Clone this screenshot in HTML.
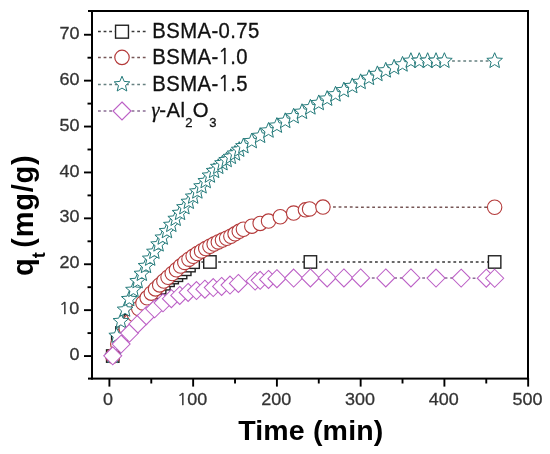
<!DOCTYPE html>
<html><head><meta charset="utf-8"><title>Adsorption kinetics</title>
<style>html,body{margin:0;padding:0;background:#fff;}svg{display:block;}</style>
</head><body><svg width="550" height="454" viewBox="0 0 550 454"><g fill="#000"><rect x="88" y="10" width="441" height="2"/><rect x="88" y="377.6" width="441" height="2"/><rect x="91" y="10" width="2" height="369.6"/><rect x="527" y="10" width="2" height="369.6"/></g><g stroke="#000" stroke-width="1.9"><line x1="84" y1="356.05" x2="92" y2="356.05"/><line x1="84" y1="310.15" x2="92" y2="310.15"/><line x1="84" y1="264.25" x2="92" y2="264.25"/><line x1="84" y1="218.35" x2="92" y2="218.35"/><line x1="84" y1="172.45" x2="92" y2="172.45"/><line x1="84" y1="126.55" x2="92" y2="126.55"/><line x1="84" y1="80.65" x2="92" y2="80.65"/><line x1="84" y1="34.75" x2="92" y2="34.75"/><line x1="87.5" y1="333.10" x2="92" y2="333.10"/><line x1="87.5" y1="287.20" x2="92" y2="287.20"/><line x1="87.5" y1="241.30" x2="92" y2="241.30"/><line x1="87.5" y1="195.40" x2="92" y2="195.40"/><line x1="87.5" y1="149.50" x2="92" y2="149.50"/><line x1="87.5" y1="103.60" x2="92" y2="103.60"/><line x1="87.5" y1="57.70" x2="92" y2="57.70"/><line x1="109.40" y1="378" x2="109.40" y2="386.6"/><line x1="193.15" y1="378" x2="193.15" y2="386.6"/><line x1="276.90" y1="378" x2="276.90" y2="386.6"/><line x1="360.65" y1="378" x2="360.65" y2="386.6"/><line x1="444.40" y1="378" x2="444.40" y2="386.6"/><line x1="528.15" y1="378" x2="528.15" y2="386.6"/><line x1="151.28" y1="378" x2="151.28" y2="383.5"/><line x1="235.03" y1="378" x2="235.03" y2="383.5"/><line x1="318.77" y1="378" x2="318.77" y2="383.5"/><line x1="402.52" y1="378" x2="402.52" y2="383.5"/><line x1="486.27" y1="378" x2="486.27" y2="383.5"/></g><g font-family="'Liberation Sans', Arial, sans-serif" font-size="18" fill="#333" stroke="#333" stroke-width="0.3"><text transform="translate(79.6 360.15) scale(1 0.935)" text-anchor="end">0</text><text transform="translate(79.6 314.25) scale(1 0.935)" text-anchor="end"><tspan font-family="NanumGothic, 'Liberation Sans', sans-serif" dx="-0.45">1</tspan><tspan dx="-0.45">0</tspan></text><text transform="translate(79.6 268.35) scale(1 0.935)" text-anchor="end">20</text><text transform="translate(79.6 222.45) scale(1 0.935)" text-anchor="end">30</text><text transform="translate(79.6 176.55) scale(1 0.935)" text-anchor="end">40</text><text transform="translate(79.6 130.65) scale(1 0.935)" text-anchor="end">50</text><text transform="translate(79.6 84.75) scale(1 0.935)" text-anchor="end">60</text><text transform="translate(79.6 38.85) scale(1 0.935)" text-anchor="end">70</text><text transform="translate(108.00 405.4) scale(1 0.935)" text-anchor="middle">0</text><text transform="translate(192.45 405.4) scale(1 0.935)" text-anchor="middle"><tspan font-family="NanumGothic, 'Liberation Sans', sans-serif" dx="-0.45">1</tspan><tspan dx="-0.45">0</tspan>0</text><text transform="translate(276.20 405.4) scale(1 0.935)" text-anchor="middle">200</text><text transform="translate(359.95 405.4) scale(1 0.935)" text-anchor="middle">300</text><text transform="translate(443.70 405.4) scale(1 0.935)" text-anchor="middle">400</text><text transform="translate(527.45 405.4) scale(1 0.935)" text-anchor="middle">500</text></g><text x="238.2" y="439.6" font-family="'Liberation Sans', Arial, sans-serif" font-size="28.5" font-weight="bold" fill="#000" letter-spacing="0.17">Time (min)</text><g transform="translate(33.4,276) rotate(-90)"><text x="0" y="0" font-family="'Liberation Sans', Arial, sans-serif" font-size="29" font-weight="bold" fill="#000">q<tspan font-size="18.2" dy="12.0">t</tspan><tspan dy="-12.0" dx="-4.3" letter-spacing="0.75"> (mg/g)</tspan></text></g><polyline points="112.75,356.05 117.78,340.90 121.96,333.01 126.15,326.67 130.34,320.87 134.53,315.66 138.71,310.96 142.90,306.48 147.09,301.92 151.28,297.30 155.46,292.35 159.65,287.66 163.84,283.72 168.03,280.31 172.21,277.56 176.40,275.27 180.59,272.51 184.78,269.30 188.96,265.63 193.15,262.18 209.90,261.96 310.40,261.96 494.65,261.96" fill="none" stroke="#383838" stroke-width="1.5" stroke-dasharray="2.8 2.8"/><g fill="#fff" stroke="#222222" stroke-width="1.4" stroke-linejoin="miter"><rect x="106.55" y="349.85" width="12.40" height="12.40"/><rect x="111.58" y="334.70" width="12.40" height="12.40"/><rect x="115.76" y="326.81" width="12.40" height="12.40"/><rect x="119.95" y="320.47" width="12.40" height="12.40"/><rect x="124.14" y="314.67" width="12.40" height="12.40"/><rect x="128.33" y="309.46" width="12.40" height="12.40"/><rect x="132.51" y="304.76" width="12.40" height="12.40"/><rect x="136.70" y="300.28" width="12.40" height="12.40"/><rect x="140.89" y="295.72" width="12.40" height="12.40"/><rect x="145.08" y="291.10" width="12.40" height="12.40"/><rect x="149.26" y="286.15" width="12.40" height="12.40"/><rect x="153.45" y="281.46" width="12.40" height="12.40"/><rect x="157.64" y="277.52" width="12.40" height="12.40"/><rect x="161.83" y="274.12" width="12.40" height="12.40"/><rect x="166.01" y="271.36" width="12.40" height="12.40"/><rect x="170.20" y="269.07" width="12.40" height="12.40"/><rect x="174.39" y="266.31" width="12.40" height="12.40"/><rect x="178.58" y="263.10" width="12.40" height="12.40"/><rect x="182.76" y="259.43" width="12.40" height="12.40"/><rect x="186.95" y="255.98" width="12.40" height="12.40"/><rect x="203.70" y="255.76" width="12.40" height="12.40"/><rect x="304.20" y="255.76" width="12.40" height="12.40"/><rect x="488.45" y="255.76" width="12.40" height="12.40"/></g><polyline points="112.75,356.05 117.78,344.12 121.96,335.93 126.15,328.51 130.34,321.40 134.53,314.74 138.71,308.53 142.90,302.94 147.09,297.85 151.28,293.17 155.46,288.90 159.65,284.91 163.84,281.01 168.03,277.23 172.21,273.52 176.40,269.82 180.59,266.06 184.78,262.45 188.96,259.20 193.15,256.30 197.34,253.57 201.53,251.00 205.71,248.57 209.90,246.25 214.09,244.03 218.28,241.96 222.46,240.10 226.65,238.25 230.84,236.25 235.03,233.85 239.21,231.33 243.40,229.23 251.78,226.15 260.15,223.40 268.52,221.10 280.25,216.74 293.65,213.07 305.38,209.86 309.56,208.94 322.96,207.10 494.65,207.24" fill="none" stroke="#765656" stroke-width="1.5" stroke-dasharray="2.8 2.8"/><g fill="#fff" stroke="#b43a3a" stroke-width="1.1" stroke-linejoin="miter"><circle cx="112.75" cy="356.05" r="7.2"/><circle cx="117.78" cy="344.12" r="7.2"/><circle cx="121.96" cy="335.93" r="7.2"/><circle cx="126.15" cy="328.51" r="7.2"/><circle cx="130.34" cy="321.40" r="7.2"/><circle cx="134.53" cy="314.74" r="7.2"/><circle cx="138.71" cy="308.53" r="7.2"/><circle cx="142.90" cy="302.94" r="7.2"/><circle cx="147.09" cy="297.85" r="7.2"/><circle cx="151.28" cy="293.17" r="7.2"/><circle cx="155.46" cy="288.90" r="7.2"/><circle cx="159.65" cy="284.91" r="7.2"/><circle cx="163.84" cy="281.01" r="7.2"/><circle cx="168.03" cy="277.23" r="7.2"/><circle cx="172.21" cy="273.52" r="7.2"/><circle cx="176.40" cy="269.82" r="7.2"/><circle cx="180.59" cy="266.06" r="7.2"/><circle cx="184.78" cy="262.45" r="7.2"/><circle cx="188.96" cy="259.20" r="7.2"/><circle cx="193.15" cy="256.30" r="7.2"/><circle cx="197.34" cy="253.57" r="7.2"/><circle cx="201.53" cy="251.00" r="7.2"/><circle cx="205.71" cy="248.57" r="7.2"/><circle cx="209.90" cy="246.25" r="7.2"/><circle cx="214.09" cy="244.03" r="7.2"/><circle cx="218.28" cy="241.96" r="7.2"/><circle cx="222.46" cy="240.10" r="7.2"/><circle cx="226.65" cy="238.25" r="7.2"/><circle cx="230.84" cy="236.25" r="7.2"/><circle cx="235.03" cy="233.85" r="7.2"/><circle cx="239.21" cy="231.33" r="7.2"/><circle cx="243.40" cy="229.23" r="7.2"/><circle cx="251.78" cy="226.15" r="7.2"/><circle cx="260.15" cy="223.40" r="7.2"/><circle cx="268.52" cy="221.10" r="7.2"/><circle cx="280.25" cy="216.74" r="7.2"/><circle cx="293.65" cy="213.07" r="7.2"/><circle cx="305.38" cy="209.86" r="7.2"/><circle cx="309.56" cy="208.94" r="7.2"/><circle cx="322.96" cy="207.10" r="7.2"/><circle cx="494.65" cy="207.24" r="7.2"/></g><polyline points="112.75,356.05 116.69,335.85 120.87,321.17 125.06,309.69 129.25,299.13 133.44,289.95 137.62,281.23 141.81,273.89 146.00,266.09 150.19,258.74 154.37,251.86 158.56,244.51 162.75,237.68 166.94,231.20 171.31,224.96 175.67,218.90 180.04,213.02 184.41,207.33 188.78,201.90 193.15,196.69 197.34,191.58 201.53,186.45 205.71,181.17 209.90,175.66 214.09,171.03 218.28,166.94 222.46,163.36 226.65,160.13 230.84,156.97 235.03,153.63 239.21,149.83 243.40,146.29 251.78,141.24 260.15,135.93 268.52,130.68 276.90,125.77 285.27,121.04 293.65,116.45 302.02,111.96 310.40,107.52 318.77,103.14 327.15,98.81 335.52,94.51 343.90,90.28 352.27,86.16 360.65,82.06 369.02,77.99 377.40,74.10 385.77,70.55 394.15,67.57 402.52,64.59 410.90,60.91 419.27,60.91 427.65,60.91 436.02,60.91 444.40,60.91 494.65,60.91" fill="none" stroke="#668080" stroke-width="1.5" stroke-dasharray="2.8 2.8"/><g fill="#fff" stroke="#237a7a" stroke-width="1.0" stroke-linejoin="round"><polygon points="112.75,347.85 114.92,353.06 120.55,353.52 116.26,357.19 117.57,362.68 112.75,359.74 107.93,362.68 109.24,357.19 104.95,353.52 110.58,353.06"/><polygon points="116.69,327.65 118.86,332.87 124.48,333.32 120.20,336.99 121.51,342.49 116.69,339.54 111.87,342.49 113.18,336.99 108.89,333.32 114.52,332.87"/><polygon points="120.87,312.97 123.04,318.18 128.67,318.63 124.38,322.31 125.69,327.80 120.87,324.86 116.05,327.80 117.36,322.31 113.08,318.63 118.70,318.18"/><polygon points="125.06,301.49 127.23,306.71 132.86,307.16 128.57,310.83 129.88,316.32 125.06,313.38 120.24,316.32 121.55,310.83 117.26,307.16 122.89,306.71"/><polygon points="129.25,290.93 131.42,296.15 137.05,296.60 132.76,300.27 134.07,305.77 129.25,302.82 124.43,305.77 125.74,300.27 121.45,296.60 127.08,296.15"/><polygon points="133.44,281.75 135.61,286.97 141.23,287.42 136.95,291.09 138.26,296.59 133.44,293.64 128.62,296.59 129.93,291.09 125.64,287.42 131.27,286.97"/><polygon points="137.62,273.03 139.79,278.25 145.42,278.70 141.13,282.37 142.44,287.87 137.62,284.92 132.80,287.87 134.11,282.37 129.83,278.70 135.45,278.25"/><polygon points="141.81,265.69 143.98,270.90 149.61,271.36 145.32,275.03 146.63,280.52 141.81,277.58 136.99,280.52 138.30,275.03 134.01,271.36 139.64,270.90"/><polygon points="146.00,257.89 148.17,263.10 153.80,263.55 149.51,267.23 150.82,272.72 146.00,269.78 141.18,272.72 142.49,267.23 138.20,263.55 143.83,263.10"/><polygon points="150.19,250.54 152.36,255.76 157.98,256.21 153.70,259.88 155.01,265.38 150.19,262.43 145.37,265.38 146.68,259.88 142.39,256.21 148.02,255.76"/><polygon points="154.37,243.66 156.54,248.87 162.17,249.32 157.88,253.00 159.19,258.49 154.37,255.55 149.55,258.49 150.86,253.00 146.58,249.32 152.20,248.87"/><polygon points="158.56,236.31 160.73,241.53 166.36,241.98 162.07,245.65 163.38,251.15 158.56,248.20 153.74,251.15 155.05,245.65 150.76,241.98 156.39,241.53"/><polygon points="162.75,229.48 164.92,234.70 170.55,235.15 166.26,238.83 167.57,244.32 162.75,241.37 157.93,244.32 159.24,238.83 154.95,235.15 160.58,234.70"/><polygon points="166.94,223.00 169.11,228.22 174.73,228.67 170.45,232.34 171.76,237.84 166.94,234.89 162.12,237.84 163.43,232.34 159.14,228.67 164.77,228.22"/><polygon points="171.31,216.76 173.47,221.97 179.10,222.43 174.81,226.10 176.13,231.59 171.31,228.65 166.49,231.59 167.80,226.10 163.51,222.43 169.14,221.97"/><polygon points="175.67,210.70 177.84,215.91 183.47,216.36 179.18,220.04 180.49,225.53 175.67,222.59 170.85,225.53 172.16,220.04 167.88,216.36 173.51,215.91"/><polygon points="180.04,204.82 182.21,210.04 187.84,210.49 183.55,214.16 184.86,219.65 180.04,216.71 175.22,219.65 176.53,214.16 172.24,210.49 177.87,210.04"/><polygon points="184.41,199.13 186.58,204.35 192.21,204.80 187.92,208.47 189.23,213.97 184.41,211.02 179.59,213.97 180.90,208.47 176.61,204.80 182.24,204.35"/><polygon points="188.78,193.70 190.95,198.91 196.58,199.37 192.29,203.04 193.60,208.53 188.78,205.59 183.96,208.53 185.27,203.04 180.98,199.37 186.61,198.91"/><polygon points="193.15,188.49 195.32,193.71 200.95,194.16 196.66,197.83 197.97,203.33 193.15,200.38 188.33,203.33 189.64,197.83 185.35,194.16 190.98,193.71"/><polygon points="197.34,183.38 199.51,188.60 205.14,189.05 200.85,192.72 202.16,198.22 197.34,195.27 192.52,198.22 193.83,192.72 189.54,189.05 195.17,188.60"/><polygon points="201.53,178.25 203.69,183.47 209.32,183.92 205.03,187.59 206.34,193.09 201.53,190.14 196.71,193.09 198.02,187.59 193.73,183.92 199.36,183.47"/><polygon points="205.71,172.97 207.88,178.19 213.51,178.64 209.22,182.31 210.53,187.80 205.71,184.86 200.89,187.80 202.20,182.31 197.91,178.64 203.54,178.19"/><polygon points="209.90,167.46 212.07,172.68 217.70,173.13 213.41,176.80 214.72,182.30 209.90,179.35 205.08,182.30 206.39,176.80 202.10,173.13 207.73,172.68"/><polygon points="214.09,162.83 216.26,168.04 221.89,168.49 217.60,172.17 218.91,177.66 214.09,174.72 209.27,177.66 210.58,172.17 206.29,168.49 211.92,168.04"/><polygon points="218.28,158.74 220.44,163.96 226.07,164.41 221.78,168.08 223.09,173.58 218.28,170.63 213.46,173.58 214.77,168.08 210.48,164.41 216.11,163.96"/><polygon points="222.46,155.16 224.63,160.38 230.26,160.83 225.97,164.51 227.28,170.00 222.46,167.05 217.64,170.00 218.95,164.51 214.66,160.83 220.29,160.38"/><polygon points="226.65,151.93 228.82,157.14 234.45,157.59 230.16,161.27 231.47,166.76 226.65,163.82 221.83,166.76 223.14,161.27 218.85,157.59 224.48,157.14"/><polygon points="230.84,148.77 233.01,153.98 238.64,154.43 234.35,158.11 235.66,163.60 230.84,160.66 226.02,163.60 227.33,158.11 223.04,154.43 228.67,153.98"/><polygon points="235.03,145.43 237.19,150.65 242.82,151.10 238.53,154.77 239.84,160.26 235.03,157.32 230.21,160.26 231.52,154.77 227.23,151.10 232.86,150.65"/><polygon points="239.21,141.63 241.38,146.84 247.01,147.30 242.72,150.97 244.03,156.46 239.21,153.52 234.39,156.46 235.70,150.97 231.41,147.30 237.04,146.84"/><polygon points="243.40,138.09 245.57,143.30 251.20,143.75 246.91,147.43 248.22,152.92 243.40,149.98 238.58,152.92 239.89,147.43 235.60,143.75 241.23,143.30"/><polygon points="251.78,133.04 253.94,138.25 259.57,138.70 255.28,142.38 256.59,147.87 251.78,144.93 246.96,147.87 248.27,142.38 243.98,138.70 249.61,138.25"/><polygon points="260.15,127.73 262.32,132.95 267.95,133.40 263.66,137.07 264.97,142.57 260.15,139.62 255.33,142.57 256.64,137.07 252.35,133.40 257.98,132.95"/><polygon points="268.52,122.48 270.69,127.70 276.32,128.15 272.03,131.82 273.34,137.31 268.52,134.37 263.71,137.31 265.02,131.82 260.73,128.15 266.36,127.70"/><polygon points="276.90,117.57 279.07,122.79 284.70,123.24 280.41,126.91 281.72,132.41 276.90,129.46 272.08,132.41 273.39,126.91 269.10,123.24 274.73,122.79"/><polygon points="285.27,112.84 287.44,118.06 293.07,118.51 288.78,122.18 290.09,127.68 285.27,124.73 280.46,127.68 281.77,122.18 277.48,118.51 283.11,118.06"/><polygon points="293.65,108.25 295.82,113.47 301.45,113.92 297.16,117.59 298.47,123.09 293.65,120.14 288.83,123.09 290.14,117.59 285.85,113.92 291.48,113.47"/><polygon points="302.02,103.76 304.19,108.97 309.82,109.42 305.53,113.10 306.84,118.59 302.02,115.65 297.21,118.59 298.52,113.10 294.23,109.42 299.86,108.97"/><polygon points="310.40,99.32 312.57,104.53 318.20,104.98 313.91,108.66 315.22,114.15 310.40,111.21 305.58,114.15 306.89,108.66 302.60,104.98 308.23,104.53"/><polygon points="318.77,94.94 320.94,100.16 326.57,100.61 322.28,104.28 323.59,109.77 318.77,106.83 313.96,109.77 315.27,104.28 310.98,100.61 316.61,100.16"/><polygon points="327.15,90.61 329.32,95.82 334.95,96.27 330.66,99.95 331.97,105.44 327.15,102.50 322.33,105.44 323.64,99.95 319.35,96.27 324.98,95.82"/><polygon points="335.52,86.31 337.69,91.53 343.32,91.98 339.03,95.65 340.34,101.14 335.52,98.20 330.71,101.14 332.02,95.65 327.73,91.98 333.36,91.53"/><polygon points="343.90,82.08 346.07,87.30 351.70,87.75 347.41,91.42 348.72,96.92 343.90,93.97 339.08,96.92 340.39,91.42 336.10,87.75 341.73,87.30"/><polygon points="352.27,77.96 354.44,83.17 360.07,83.62 355.78,87.30 357.09,92.79 352.27,89.85 347.46,92.79 348.77,87.30 344.48,83.62 350.11,83.17"/><polygon points="360.65,73.86 362.82,79.07 368.45,79.52 364.16,83.20 365.47,88.69 360.65,85.75 355.83,88.69 357.14,83.20 352.85,79.52 358.48,79.07"/><polygon points="369.02,69.79 371.19,75.00 376.82,75.45 372.53,79.13 373.84,84.62 369.02,81.68 364.21,84.62 365.52,79.13 361.23,75.45 366.86,75.00"/><polygon points="377.40,65.90 379.57,71.12 385.20,71.57 380.91,75.24 382.22,80.74 377.40,77.79 372.58,80.74 373.89,75.24 369.60,71.57 375.23,71.12"/><polygon points="385.77,62.35 387.94,67.57 393.57,68.02 389.28,71.69 390.59,77.19 385.77,74.24 380.96,77.19 382.27,71.69 377.98,68.02 383.61,67.57"/><polygon points="394.15,59.37 396.32,64.58 401.95,65.03 397.66,68.71 398.97,74.20 394.15,71.26 389.33,74.20 390.64,68.71 386.35,65.03 391.98,64.58"/><polygon points="402.52,56.39 404.69,61.60 410.32,62.05 406.03,65.73 407.34,71.22 402.52,68.28 397.71,71.22 399.02,65.73 394.73,62.05 400.36,61.60"/><polygon points="410.90,52.71 413.07,57.93 418.70,58.38 414.41,62.05 415.72,67.55 410.90,64.60 406.08,67.55 407.39,62.05 403.10,58.38 408.73,57.93"/><polygon points="419.27,52.71 421.44,57.93 427.07,58.38 422.78,62.05 424.09,67.55 419.27,64.60 414.46,67.55 415.77,62.05 411.48,58.38 417.11,57.93"/><polygon points="427.65,52.71 429.82,57.93 435.45,58.38 431.16,62.05 432.47,67.55 427.65,64.60 422.83,67.55 424.14,62.05 419.85,58.38 425.48,57.93"/><polygon points="436.02,52.71 438.19,57.93 443.82,58.38 439.53,62.05 440.84,67.55 436.02,64.60 431.21,67.55 432.52,62.05 428.23,58.38 433.86,57.93"/><polygon points="444.40,52.71 446.57,57.93 452.20,58.38 447.91,62.05 449.22,67.55 444.40,64.60 439.58,67.55 440.89,62.05 436.60,58.38 442.23,57.93"/><polygon points="494.65,52.71 496.82,57.93 502.45,58.38 498.16,62.05 499.47,67.55 494.65,64.60 489.83,67.55 491.14,62.05 486.85,58.38 492.48,57.93"/></g><polyline points="112.75,355.82 121.12,344.12 129.50,333.10 137.88,323.92 146.25,315.66 154.62,308.77 163.00,302.81 171.38,298.68 179.75,295.46 188.12,292.48 196.50,290.55 204.88,289.18 213.25,287.52 221.62,286.40 230.00,285.05 238.38,283.44 255.12,281.00 260.15,280.31 268.52,279.40 276.90,278.71 293.65,278.02 310.40,277.93 327.15,277.93 343.90,277.93 360.65,277.93 385.77,277.94 410.90,277.98 436.02,278.04 461.15,278.12 486.27,278.21 494.65,278.25" fill="none" stroke="#8a6e94" stroke-width="1.5" stroke-dasharray="2.8 2.8"/><g fill="#fff" stroke="#bc60c6" stroke-width="1.05" stroke-linejoin="miter"><polygon points="112.75,346.82 121.75,355.82 112.75,364.82 103.75,355.82"/><polygon points="121.12,335.12 130.12,344.12 121.12,353.12 112.12,344.12"/><polygon points="129.50,324.10 138.50,333.10 129.50,342.10 120.50,333.10"/><polygon points="137.88,314.92 146.88,323.92 137.88,332.92 128.88,323.92"/><polygon points="146.25,306.66 155.25,315.66 146.25,324.66 137.25,315.66"/><polygon points="154.62,299.77 163.62,308.77 154.62,317.77 145.62,308.77"/><polygon points="163.00,293.81 172.00,302.81 163.00,311.81 154.00,302.81"/><polygon points="171.38,289.68 180.38,298.68 171.38,307.68 162.38,298.68"/><polygon points="179.75,286.46 188.75,295.46 179.75,304.46 170.75,295.46"/><polygon points="188.12,283.48 197.12,292.48 188.12,301.48 179.12,292.48"/><polygon points="196.50,281.55 205.50,290.55 196.50,299.55 187.50,290.55"/><polygon points="204.88,280.18 213.88,289.18 204.88,298.18 195.88,289.18"/><polygon points="213.25,278.52 222.25,287.52 213.25,296.52 204.25,287.52"/><polygon points="221.62,277.40 230.62,286.40 221.62,295.40 212.62,286.40"/><polygon points="230.00,276.05 239.00,285.05 230.00,294.05 221.00,285.05"/><polygon points="238.38,274.44 247.38,283.44 238.38,292.44 229.38,283.44"/><polygon points="255.12,272.00 264.12,281.00 255.12,290.00 246.12,281.00"/><polygon points="260.15,271.31 269.15,280.31 260.15,289.31 251.15,280.31"/><polygon points="268.52,270.40 277.52,279.40 268.52,288.40 259.52,279.40"/><polygon points="276.90,269.71 285.90,278.71 276.90,287.71 267.90,278.71"/><polygon points="293.65,269.02 302.65,278.02 293.65,287.02 284.65,278.02"/><polygon points="310.40,268.93 319.40,277.93 310.40,286.93 301.40,277.93"/><polygon points="327.15,268.93 336.15,277.93 327.15,286.93 318.15,277.93"/><polygon points="343.90,268.93 352.90,277.93 343.90,286.93 334.90,277.93"/><polygon points="360.65,268.93 369.65,277.93 360.65,286.93 351.65,277.93"/><polygon points="385.77,268.94 394.77,277.94 385.77,286.94 376.77,277.94"/><polygon points="410.90,268.98 419.90,277.98 410.90,286.98 401.90,277.98"/><polygon points="436.02,269.04 445.02,278.04 436.02,287.04 427.02,278.04"/><polygon points="461.15,269.12 470.15,278.12 461.15,287.12 452.15,278.12"/><polygon points="486.27,269.21 495.27,278.21 486.27,287.21 477.27,278.21"/><polygon points="494.65,269.25 503.65,278.25 494.65,287.25 485.65,278.25"/></g><line x1="98" y1="31.5" x2="146.5" y2="31.5" stroke="#383838" stroke-width="1.5" stroke-dasharray="2.8 2.8"/><g fill="#fff" stroke="#222222" stroke-width="1.4" stroke-linejoin="miter"><rect x="115.55" y="25.25" width="12.90" height="12.90"/></g><line x1="98" y1="57.4" x2="146.5" y2="57.4" stroke="#765656" stroke-width="1.5" stroke-dasharray="2.8 2.8"/><g fill="#fff" stroke="#b43a3a" stroke-width="1.2" stroke-linejoin="miter"><circle cx="122.00" cy="57.40" r="7.2"/></g><line x1="98" y1="84.4" x2="146.5" y2="84.4" stroke="#668080" stroke-width="1.5" stroke-dasharray="2.8 2.8"/><g fill="#fff" stroke="#237a7a" stroke-width="1.0" stroke-linejoin="round"><polygon points="122.00,76.20 124.17,81.41 129.80,81.87 125.51,85.54 126.82,91.03 122.00,88.09 117.18,91.03 118.49,85.54 114.20,81.87 119.83,81.41"/></g><line x1="98" y1="111" x2="146.5" y2="111" stroke="#8a6e94" stroke-width="1.5" stroke-dasharray="2.8 2.8"/><g fill="#fff" stroke="#bc60c6" stroke-width="1.15" stroke-linejoin="miter"><polygon points="122.00,102.00 131.00,111.00 122.00,120.00 113.00,111.00"/></g><g font-family="'Liberation Sans', Arial, sans-serif" font-size="20.3" fill="#111" stroke="#111" stroke-width="0.3" letter-spacing="0.4"><text transform="translate(152.3 37.7) scale(1 1.05)">BSMA-0.75</text><text transform="translate(152.3 64.3) scale(1 1.05)">BSMA-<tspan font-family="NanumGothic, 'Liberation Sans', sans-serif" dx="-0.51">1</tspan><tspan dx="-0.51">.</tspan>0</text><text transform="translate(152.3 90.7) scale(1 1.05)">BSMA-<tspan font-family="NanumGothic, 'Liberation Sans', sans-serif" dx="-0.51">1</tspan><tspan dx="-0.51">.</tspan>5</text><text y="117.4" letter-spacing="0"><tspan x="151.6" font-family="'Liberation Serif', serif" font-style="italic">γ</tspan><tspan x="159.3">-</tspan><tspan x="166.4">A</tspan><tspan x="180.6">l</tspan><tspan x="185.3" font-size="13" dy="9.3">2</tspan><tspan x="192.7" dy="-9.3">O</tspan><tspan x="209.2" font-size="13" dy="9.3">3</tspan></text></g></svg></body></html>
